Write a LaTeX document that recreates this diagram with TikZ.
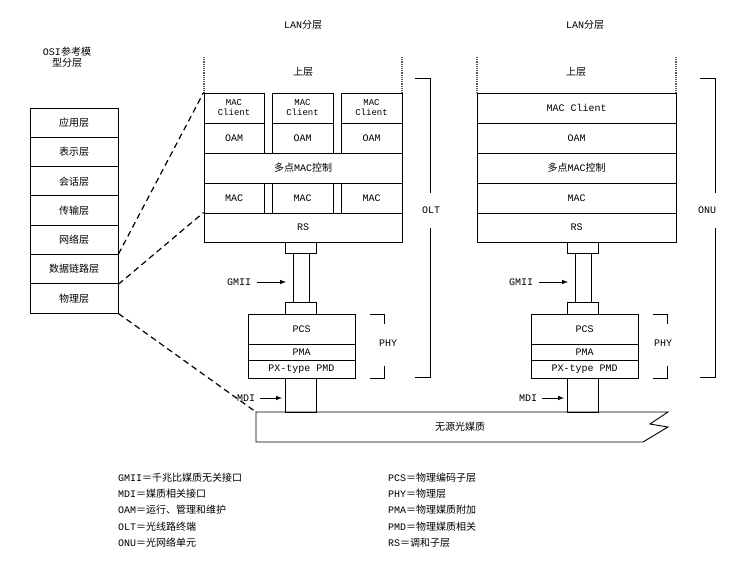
\documentclass[tikz,border=0pt]{standalone}
\usepackage{fontspec}
\setmainfont{Liberation Mono}
\newfontfamily\cjk{Noto Sans CJK SC}
\newcommand{\zh}[1]{{\cjk #1}}
\begin{document}
\begin{tikzpicture}[x=1pt,y=-1pt,font=\fontsize{10}{11}\selectfont,
  bx/.style={draw,line width=0.9pt,inner sep=0pt},
  lbl/.style={inner sep=0pt},
  ln/.style={line width=0.9pt},
  dsh/.style={line width=1.2pt,dash pattern=on 6pt off 4pt},
  dot/.style={line width=1.2pt,densely dotted,gray!70!black},
  arr/.style={line width=1pt,-latex}]
\useasboundingbox (0,0) rectangle (730,565);
% OSI
\node[lbl,align=center] (osit) at (67,57) {OSI\zh{参考模}\\\zh{型分层}};
\foreach \t [count=\i] in {应用层,表示层,会话层,传输层,网络层,数据链路层,物理层}{
  \pgfmathsetmacro\ya{108+29.3*(\i-1)}
  \pgfmathsetmacro\yb{108+29.3*\i}
  \node[bx,minimum width=88pt,minimum height=29.3pt] (o\i) at (74,{(\ya+\yb)/2}) {\zh{\t}};
}
% titles
\node[lbl] (lan1) at (303,25) {LAN\zh{分层}};
\node[lbl] (lan2) at (585,25) {LAN\zh{分层}};
% OLT stack
\node[lbl] (up1) at (303,72) {\zh{上层}};
\draw[dot] (204,57) -- (204,93) (402,57) -- (402,93);
\foreach \a/\b [count=\j] in {204/264,272/333,341/402}{
  \node[bx,minimum width={\b-\a},minimum height=30pt,align=center,font=\fontsize{9}{10}\selectfont] (mc\j) at ({(\a+\b)/2},108) {MAC\\Client};
  \node[bx,minimum width={\b-\a},minimum height=30pt] (oam\j) at ({(\a+\b)/2},138) {OAM};
  \node[bx,minimum width={\b-\a},minimum height=30pt] (mac\j) at ({(\a+\b)/2},198) {MAC};
}
\node[bx,minimum width=198pt,minimum height=30pt,fill=white] (mp1) at (303,168) {\zh{多点}MAC\zh{控制}};
\node[bx,minimum width=198pt,minimum height=29pt] (rs1) at (303,227.5) {RS};
% ONU stack
\node[lbl] (up2) at (576,72) {\zh{上层}};
\draw[dot] (477,57) -- (477,93) (676,57) -- (676,93);
\node[bx,minimum width=199pt,minimum height=30pt] (mcb) at (576.5,108) {MAC Client};
\node[bx,minimum width=199pt,minimum height=30pt] (oamb) at (576.5,138) {OAM};
\node[bx,minimum width=199pt,minimum height=30pt] (mpb) at (576.5,168) {\zh{多点}MAC\zh{控制}};
\node[bx,minimum width=199pt,minimum height=30pt] (macb) at (576.5,198) {MAC};
\node[bx,minimum width=199pt,minimum height=29pt] (rsb) at (576.5,227.5) {RS};
% PHY + connectors
\foreach \s/\cx/\px in {1/301/301.5,2/583/584.5}{
  \node[bx,minimum width=31pt,minimum height=11pt] (ct\s) at (\cx,247.5) {};
  \node[bx,minimum width=31pt,minimum height=12pt] (cb\s) at (\cx,308) {};
  \draw[ln] ([xshift=-8pt]ct\s.south) -- ([xshift=-8pt]cb\s.north) ([xshift=8pt]ct\s.south) -- ([xshift=8pt]cb\s.north);
  \node[bx,minimum width=107pt,minimum height=30pt] (pcs\s) at (\px,329) {PCS};
  \node[bx,minimum width=107pt,minimum height=16pt] (pma\s) at (\px,352) {PMA};
  \node[bx,minimum width=107pt,minimum height=18pt] (pmd\s) at (\px,369) {PX-type PMD};
  \node[bx,minimum width=31pt,minimum height=34pt] (mdi\s) at (\cx,395) {};
  \node[lbl] (gl\s) at ({\cx-62},282) {GMII};
  \draw[arr] (gl\s.east)++(6,0) coordinate (ga\s) -- ({\cx-15},282);
  \node[lbl] (ml\s) at ({\cx-55},398) {MDI};
  \draw[arr] (ml\s.east)++(5,0) coordinate (ma\s) -- ({\cx-19},398);
}
% medium
\draw[ln] (256,412) -- (668,412) -- (650,424) -- (668,427) -- (643,442) -- (256,442) -- cycle;
\node[lbl] (med) at (460,427) {\zh{无源光媒质}};
% PHY brackets
\draw[ln] (370,314) -- (384,314) -- (384,324) (384,366) -- (384,378) -- (370,378);
\node[lbl] (phy1) at (388,343) {PHY};
\draw[ln] (653,314) -- (667,314) -- (667,324) (667,366) -- (667,378) -- (653,378);
\node[lbl] (phy2) at (663,343) {PHY};
% OLT/ONU brackets
\draw[ln] (415,78) -- (430,78) -- (430,193) (430,228) -- (430,377) -- (415,377);
\node[lbl] (olt) at (431,210) {OLT};
\draw[ln] (700,78) -- (715,78) -- (715,193) (715,228) -- (715,377) -- (700,377);
\node[lbl] (onu) at (707,210) {ONU};
% dashed
\draw[dsh] (o6.north east) -- (mc1.north west);
\draw[dsh] (o6.south east) -- (rs1.north west);
\draw[dsh] (o7.south east) -- (256,412);
% legend
\begin{scope}[every node/.style={lbl,anchor=west}]
\node (l1) at (118,478) {GMII\zh{＝千兆比媒质无关接口}};
\node (l2) at (118,494) {MDI\zh{＝媒质相关接口}};
\node (l3) at (118,510) {OAM\zh{＝运行、管理和维护}};
\node (l4) at (118,527) {OLT\zh{＝光线路终端}};
\node (l5) at (118,543) {ONU\zh{＝光网络单元}};
\node (r1) at (388,478) {PCS\zh{＝物理编码子层}};
\node (r2) at (388,494) {PHY\zh{＝物理层}};
\node (r3) at (388,510) {PMA\zh{＝物理媒质附加}};
\node (r4) at (388,527) {PMD\zh{＝物理媒质相关}};
\node (r5) at (388,543) {RS\zh{＝调和子层}};
\end{scope}
\end{tikzpicture}
\end{document}
